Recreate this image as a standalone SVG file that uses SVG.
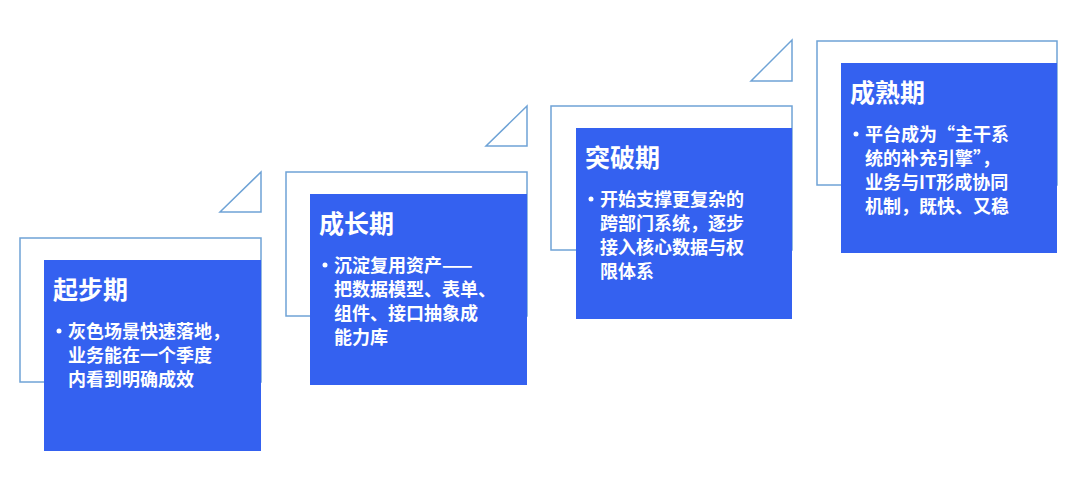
<svg xmlns="http://www.w3.org/2000/svg" width="1080" height="491" viewBox="0 0 1080 491">
<style>
.o{fill:none;stroke:#6fa3d6;stroke-width:1.5}
.b{fill:#3461f0}
.t{fill:#fff;font-family:"Noto Sans CJK SC","Noto Sans",sans-serif;font-weight:bold}
.h{font-size:25px}
.p{font-size:18px}
.d{fill:#fff}
</style>
<rect width="1080" height="491" fill="#fff"/>
<g id="connectors"></g>
<g id="s1">
<rect class="o" x="20" y="238" width="241" height="144"/>
<polygon class="o" points="220,212 261,212 261,172"/>
<rect class="b" x="44" y="260" width="217" height="191"/>
<text class="t h" x="53" y="299">起步期</text>
<circle class="d" cx="59" cy="331" r="2.5"/>
<text class="t p"><tspan x="68" y="338">灰色场景快速落地，</tspan><tspan x="68" y="362">业务能在一个季度</tspan><tspan x="68" y="386">内看到明确成效</tspan></text>
</g>
<g id="s2">
<rect class="o" x="286" y="172" width="241" height="144"/>
<polygon class="o" points="486,146 527,146 527,106"/>
<rect class="b" x="310" y="194" width="217" height="191"/>
<text class="t h" x="319" y="233">成长期</text>
<circle class="d" cx="325" cy="265" r="2.5"/>
<text class="t p"><tspan x="334" y="272">沉淀复用资产——</tspan><tspan x="334" y="296">把数据模型、表单、</tspan><tspan x="334" y="320">组件、接口抽象成</tspan><tspan x="334" y="344">能力库</tspan></text>
</g>
<g id="s3">
<rect class="o" x="551" y="106" width="241" height="144"/>
<polygon class="o" points="751,81 792,81 792,40"/>
<rect class="b" x="576" y="128" width="216" height="191"/>
<text class="t h" x="585" y="167">突破期</text>
<circle class="d" cx="591" cy="199" r="2.5"/>
<text class="t p"><tspan x="600" y="206">开始支撑更复杂的</tspan><tspan x="600" y="230">跨部门系统，逐步</tspan><tspan x="600" y="254">接入核心数据与权</tspan><tspan x="600" y="278">限体系</tspan></text>
</g>
<g id="s4">
<rect class="o" x="817" y="41" width="240" height="144"/>
<rect class="b" x="841" y="63" width="216" height="190"/>
<text class="t h" x="850" y="102">成熟期</text>
<circle class="d" cx="856" cy="134" r="2.5"/>
<text class="t p"><tspan x="865" y="141">平台成为“主干系</tspan><tspan x="865" y="165">统的补充引擎”，</tspan><tspan x="865" y="189">业务与IT形成协同</tspan><tspan x="865" y="213">机制，既快、又稳</tspan></text>
</g>
</svg>
